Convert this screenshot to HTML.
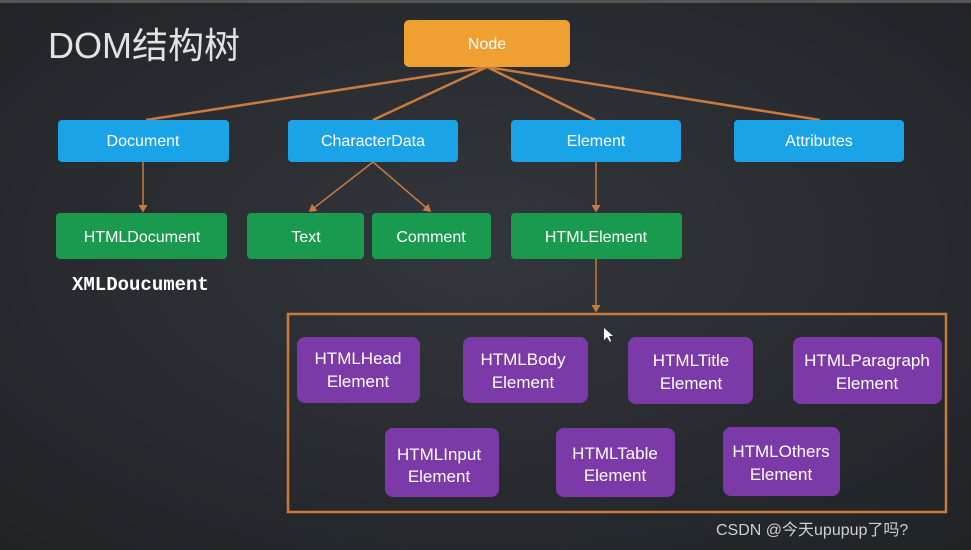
<!DOCTYPE html>
<html><head><meta charset="utf-8"><style>
html,body{margin:0;padding:0;width:971px;height:550px;overflow:hidden;background:#2a2d33;}
svg{display:block}
text{font-family:"Liberation Sans","Noto Sans CJK SC",sans-serif;}
</style></head><body>
<svg width="971" height="550" viewBox="0 0 971 550" xmlns="http://www.w3.org/2000/svg">
<defs>
<radialGradient id="bg" cx="50%" cy="45%" r="75%">
<stop offset="0" stop-color="#33363c"/><stop offset="1" stop-color="#202226"/>
</radialGradient>
<marker id="ar" markerWidth="8" markerHeight="8" refX="4" refY="4" orient="auto"><path d="M0,1 L5,4 L0,7 z" fill="#c97a3e"/></marker>
</defs>
<rect width="971" height="550" fill="url(#bg)"/>
<rect width="971" height="3" fill="#555"/>
<text x="48" y="58" font-size="36" fill="#e2e2e2">DOM结构树</text>
<g stroke="#c97a3e" stroke-width="2.5" fill="none">
<line x1="487" y1="67" x2="146" y2="120"/>
<line x1="487" y1="67" x2="373" y2="120"/>
<line x1="487" y1="67" x2="595" y2="120"/>
<line x1="487" y1="67" x2="820" y2="120"/>
</g>
<g stroke="#c97a3e" stroke-width="1.5" fill="none">
<line x1="143" y1="162" x2="143" y2="211" marker-end="url(#ar)"/>
<line x1="373" y1="162" x2="310" y2="211" marker-end="url(#ar)"/>
<line x1="373" y1="162" x2="430" y2="211" marker-end="url(#ar)"/>
<line x1="596" y1="162" x2="596" y2="211" marker-end="url(#ar)"/>
<line x1="596" y1="259" x2="596" y2="311" marker-end="url(#ar)"/>
</g>
<rect x="404" y="20" width="166" height="47" rx="5" fill="#f0a032"/>
<text x="487" y="49" font-size="16" fill="#fff" text-anchor="middle">Node</text>
<g fill="#1ba3e8">
<rect x="58" y="120" width="171" height="42" rx="4"/>
<rect x="288" y="120" width="170" height="42" rx="4"/>
<rect x="511" y="120" width="170" height="42" rx="4"/>
<rect x="734" y="120" width="170" height="42" rx="4"/>
</g>
<g font-size="16" fill="#fff" text-anchor="middle">
<text x="143" y="146">Document</text>
<text x="373" y="146">CharacterData</text>
<text x="596" y="146">Element</text>
<text x="819" y="146">Attributes</text>
</g>
<g fill="#199a4e">
<rect x="56" y="213" width="171" height="46" rx="4"/>
<rect x="247" y="213" width="117" height="46" rx="4"/>
<rect x="372" y="213" width="119" height="46" rx="4"/>
<rect x="511" y="213" width="171" height="46" rx="4"/>
</g>
<g font-size="16" fill="#fff" text-anchor="middle">
<text x="142" y="242">HTMLDocument</text>
<text x="306" y="242">Text</text>
<text x="431" y="242">Comment</text>
<text x="596" y="242">HTMLElement</text>
</g>
<text x="72" y="290" font-size="19" fill="#fff" style="font-family:'Liberation Mono',monospace;font-weight:bold">XMLDoucument</text>
<rect x="288" y="314" width="658" height="198" fill="none" stroke="#c97a3e" stroke-width="2.5"/>
<g fill="#7b3aa8">
<rect x="297" y="337" width="123" height="66" rx="8"/>
<rect x="463" y="337" width="125" height="66" rx="8"/>
<rect x="628" y="337" width="125" height="67" rx="8"/>
<rect x="793" y="337" width="149" height="67" rx="8"/>
<rect x="385" y="428" width="114" height="69" rx="8"/>
<rect x="556" y="428" width="119" height="69" rx="8"/>
<rect x="723" y="427" width="117" height="69" rx="8"/>
</g>
<g font-size="17" fill="#fff" text-anchor="middle">
<text x="358" y="364">HTMLHead</text><text x="358" y="387">Element</text>
<text x="523" y="365">HTMLBody</text><text x="523" y="388">Element</text>
<text x="691" y="366">HTMLTitle</text><text x="691" y="389">Element</text>
<text x="867" y="366">HTMLParagraph</text><text x="867" y="389">Element</text>
<text x="439" y="460">HTMLInput</text><text x="439" y="482">Element</text>
<text x="615" y="459">HTMLTable</text><text x="615" y="481">Element</text>
<text x="781" y="457">HTMLOthers</text><text x="781" y="480">Element</text>
</g>
<path d="M604,328 L604,340 L607,337 L610,342 L611,341 L609,336 L613,336 z" fill="#fff"/>
<text x="716" y="535" font-size="16" fill="#d0d0d0">CSDN @今天upupup了吗?</text>
</svg>
</body></html>
